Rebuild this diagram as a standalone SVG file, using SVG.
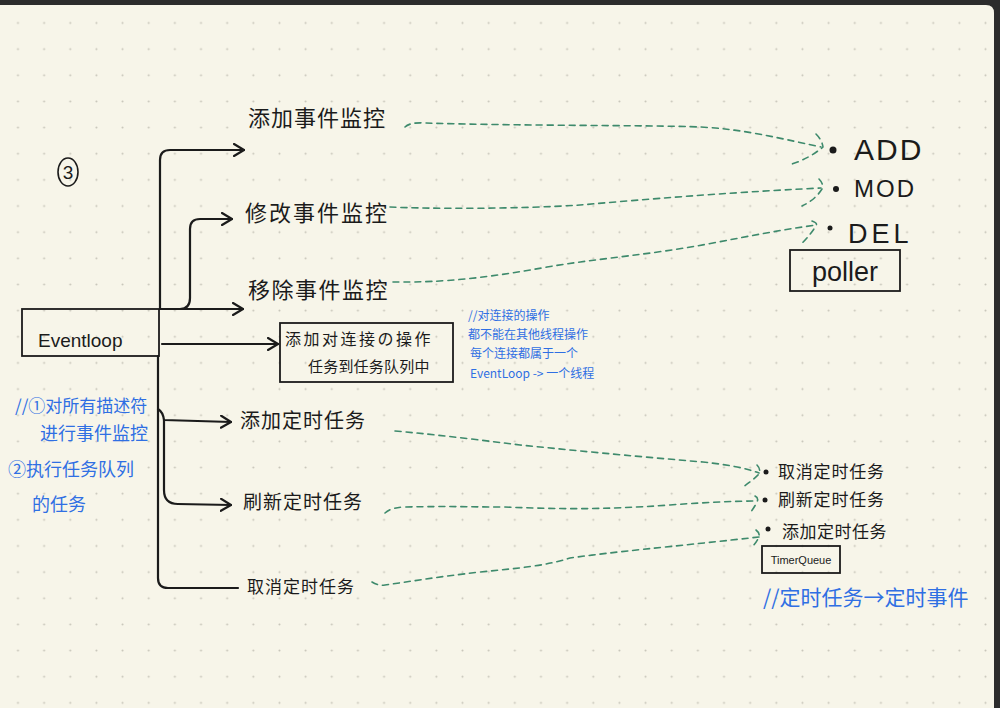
<svg xmlns="http://www.w3.org/2000/svg" width="1000" height="708" viewBox="0 0 1000 708">
<style>
.cn{font-family:"Noto Sans CJK SC","Noto Sans",sans-serif;fill:#1b1b1b}
.lat{font-family:"Liberation Sans","Noto Sans",sans-serif;fill:#1b1b1b}
.blue{font-family:"Noto Sans CJK SC","Noto Sans",sans-serif;fill:#2f6fe3}
.ln{fill:none;stroke:#1b1b1b;stroke-width:2.2;stroke-linecap:round;stroke-linejoin:round}
.box{fill:none;stroke:#1b1b1b;stroke-width:1.8}
.dash{fill:none;stroke:#3e8a6c;stroke-width:1.6;stroke-dasharray:6 5;stroke-linecap:round}
.dot{fill:#1b1b1b}
</style>
<defs>
<pattern id="grid" patternUnits="userSpaceOnUse" x="4.9" y="9.9" width="26.15" height="26.15">
<circle cx="13.075" cy="13.075" r="1" fill="#c6c4b8"/>
</pattern>
<marker id="ah" viewBox="0 0 12 14" refX="11" refY="7" markerWidth="12" markerHeight="14" markerUnits="userSpaceOnUse" orient="auto">
<path d="M1,1 L11,7 L1,13" fill="none" stroke="#1b1b1b" stroke-width="2.2" stroke-linecap="round" stroke-linejoin="round"/>
</marker>
</defs>
<rect x="0" y="0" width="1000" height="708" fill="#2c2c2c"/>
<path d="M0,5 L986,5 Q994,5 994,13 L994,708 L0,708 Z" fill="#f7f5e9"/>
<rect x="0" y="5" width="994" height="703" fill="url(#grid)"/>

<g id="connectors">
<path class="ln" d="M160,309 L160,160 Q160,150 170,150 L244,150" marker-end="url(#ah)"/>
<path class="ln" d="M160,309 L180,309 Q190,309 190,298 L190,229 Q190,219 200,219 L232,219" marker-end="url(#ah)"/>
<path class="ln" d="M160,309 L243,309" marker-end="url(#ah)"/>
<path class="ln" d="M162,344 L278,344" marker-end="url(#ah)"/>
<path class="ln" d="M158,356 L158,578 Q158,588 168,588 L238,588"/>
<path class="ln" d="M158,409 Q163,412 164,420 L231,422" marker-end="url(#ah)"/>
<path class="ln" d="M164,420 L164,490 Q164,504 178,504 L231,505" marker-end="url(#ah)"/>

<path class="dash" d="M405,127 Q410,122 425,123 C520,126 650,125 700,127 C740,129 770,136 821,147"/>
<path class="dash" d="M816,134 Q822,140 823,147 Q810,158 792,164"/>
<path class="dash" d="M390,207 C430,209 520,209 580,205 C650,199 720,193 821,188"/>
<path class="dash" d="M819,179 Q824,184 822,189 Q815,200 802,206"/>
<path class="dash" d="M393,282 C420,282 460,283 547,267 C600,258 650,255 713,243 C750,236 780,230 816,225"/>
<path class="dash" d="M812,221 Q818,223 816,226 Q808,238 800,245"/>
<path class="dash" d="M395,431 C440,435 480,440 520,445 C580,451 620,455 703,462 C730,465 745,468 759,473"/>
<path class="dash" d="M757,465 Q761,469 759,474 Q752,481 743,487"/>
<path class="dash" d="M385,513 Q392,507 405,507 C450,506 470,507 503,507 C560,509 600,510 670,505 C710,502 740,501 757,501"/>
<path class="dash" d="M755,496 Q759,498 757,502 Q754,508 750,513"/>
<path class="dash" d="M372,582 Q378,586 385,585 C420,580 437,577 480,572 C520,568 545,566 570,558 C620,551 660,548 759,537"/>
<path class="dash" d="M756,530 Q760,533 759,537 Q756,543 752,547"/>
</g>

<g id="circled-3"><ellipse cx="68" cy="172" rx="10" ry="14" fill="none" stroke="#1b1b1b" stroke-width="1.6"/><text class="lat" x="68" y="179" font-size="19" text-anchor="middle">3</text></g>

<g id="eventloop"><rect class="box" x="22" y="309" width="137" height="47"/><text class="lat" x="38" y="347" font-size="19">Eventloop</text></g>

<g id="add-watch"><text class="cn" x="248" y="126" font-size="22" letter-spacing="1">添加事件监控</text></g>
<g id="mod-watch"><text class="cn" x="245" y="221" font-size="22" letter-spacing="2">修改事件监控</text></g>
<g id="del-watch"><text class="cn" x="248" y="298" font-size="22" letter-spacing="1.5">移除事件监控</text></g>

<g id="task-box"><rect class="box" x="280" y="323" width="173" height="59"/>
<text class="cn" x="285" y="345" font-size="16" letter-spacing="2.5">添加对连接の操作</text>
<text class="cn" x="308" y="372" font-size="15" letter-spacing="0.2">任务到任务队列中</text></g>

<g id="note-thread">
<text class="blue" x="468" y="320" font-size="12">//对连接的操作</text>
<text class="blue" x="468" y="339" font-size="12">都不能在其他线程操作</text>
<text class="blue" x="470" y="358" font-size="12">每个连接都属于一个</text>
<text class="blue" x="470" y="378" font-size="12">EventLoop -&gt; 一个线程</text>
</g>

<g id="note-loop">
<text class="blue" x="15" y="412" font-size="17">//①对所有描述符</text>
<text class="blue" x="40" y="440" font-size="18">进行事件监控</text>
<text class="blue" x="8" y="476" font-size="18">②执行任务队列</text>
<text class="blue" x="32" y="511" font-size="18">的任务</text>
</g>

<g id="add-timer"><text class="cn" x="240" y="428" font-size="20" letter-spacing="1">添加定时任务</text></g>
<g id="refresh-timer"><text class="cn" x="243" y="509" font-size="19" letter-spacing="1">刷新定时任务</text></g>
<g id="cancel-timer"><text class="cn" x="247" y="593" font-size="17" letter-spacing="1">取消定时任务</text></g>

<g id="poller">
<circle class="dot" cx="833" cy="150" r="3.5"/><text class="lat" x="854" y="160" font-size="30" letter-spacing="2">ADD</text>
<circle class="dot" cx="836" cy="189" r="3"/><text class="lat" x="854" y="197" font-size="24" letter-spacing="2">MOD</text>
<circle class="dot" cx="830" cy="228" r="2.5"/><text class="lat" x="848" y="243" font-size="27" letter-spacing="4">DEL</text>
<rect class="box" x="790" y="250" width="110" height="41"/>
<text class="lat" x="845" y="281" font-size="27" text-anchor="middle">poller</text>
</g>

<g id="timerqueue">
<circle class="dot" cx="766" cy="472" r="2.5"/><text class="cn" x="778" y="478" font-size="17" letter-spacing="0.8">取消定时任务</text>
<circle class="dot" cx="765" cy="500" r="2.5"/><text class="cn" x="778" y="506" font-size="17" letter-spacing="0.8">刷新定时任务</text>
<circle class="dot" cx="768" cy="529" r="2.5"/><text class="cn" x="782" y="538" font-size="17" letter-spacing="0.5">添加定时任务</text>
<rect class="box" x="762" y="546" width="78" height="27"/>
<text class="lat" x="801" y="564" font-size="11" text-anchor="middle">TimerQueue</text>
</g>

<g id="note-timer"><text class="blue" x="763" y="605" font-size="21">//定时任务→定时事件</text></g>
</svg>
